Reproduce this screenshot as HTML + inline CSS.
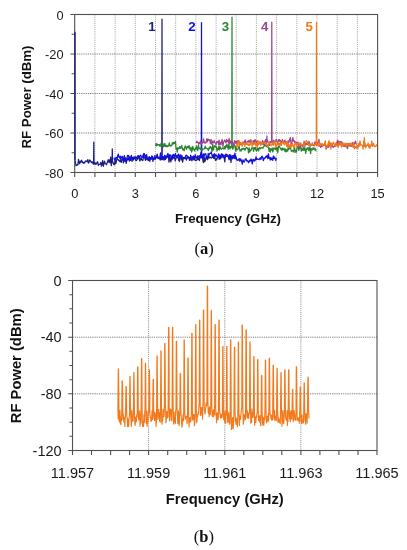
<!DOCTYPE html>
<html lang="en"><head><meta charset="utf-8"><title>RF spectra</title>
<style>html,body{margin:0;padding:0;background:#fff}svg{display:block}</style>
</head><body>
<svg width="407" height="550" viewBox="0 0 407 550">
<rect width="407" height="550" fill="#fff"/>
<g stroke="#9a9a9a" stroke-width="0.9" stroke-dasharray="1 1.1" fill="none">
<path d="M94.9 14.5 V172.5"/>
<path d="M115.1 14.5 V172.5"/>
<path d="M135.3 14.5 V172.5"/>
<path d="M155.5 14.5 V172.5"/>
<path d="M175.7 14.5 V172.5"/>
<path d="M195.9 14.5 V172.5"/>
<path d="M216.1 14.5 V172.5"/>
<path d="M236.2 14.5 V172.5"/>
<path d="M256.4 14.5 V172.5"/>
<path d="M276.6 14.5 V172.5"/>
<path d="M296.8 14.5 V172.5"/>
<path d="M317 14.5 V172.5"/>
<path d="M337.2 14.5 V172.5"/>
<path d="M357.4 14.5 V172.5"/>
</g><g stroke="#333" stroke-width="0.65" stroke-dasharray="1.2 1" fill="none">
<path d="M74.7 54 H377.6"/>
<path d="M74.7 93.5 H377.6"/>
<path d="M74.7 133 H377.6"/>
</g>
<g fill="none" stroke-linejoin="round" stroke-width="1.25">
<path stroke="#1c1c84" d="M74.8 160 L74.9 32 L75 160 L76 165.6 L76.6 165.3 L77.2 164.6 L77.9 165 L78.5 159.3 L79.1 162.4 L79.7 163.8 L80.3 161.2 L81 162 L81.6 160.1 L82.2 162.4 L82.8 161.9 L83.4 163.3 L84.1 162.7 L84.7 163 L85.3 161 L85.9 160.9 L86.5 161.1 L87.2 161.7 L87.8 159.6 L88.4 163.1 L89 162.5 L89.6 160 L90.3 160.5 L90.9 161.6 L91.5 162.6 L92.1 161.7 L92.7 162.8 L93.4 164.3 L93.6 161.7 L93.8 142.2 L94 161.7 L94.6 164 L95.2 162.8 L95.8 164.4 L96.5 163.7 L97.1 162.1 L97.7 161.9 L98.3 165.4 L98.9 164.7 L99.6 164.1 L100.2 164.1 L100.8 162.4 L101.4 166.1 L102 164.2 L102.7 160.5 L103.3 166.3 L103.9 164.2 L104.5 161.1 L105.1 163.1 L105.8 163.8 L106.4 164.8 L107 163.3 L107.6 161.6 L108.2 159.7 L108.9 162.3 L109.5 159.8 L110.1 162.7 L110.7 157 L111.3 165.6 L112 159.9 L112.1 161.6 L112.3 148.8 L112.5 161.6 L112.6 161.6 L113.2 163 L113.8 164.5 L114.4 164.8 L115.1 160.2 L115.7 163.7 L116.3 161.7 L116.9 159.2 L117.5 159.2 L118.2 159.7 L118.8 160.6 L119.4 160.4 L120 161.8 L120.6 159.6 L121.3 162.4 L121.9 159.6 L122.5 157.4 L123.1 160 L123.7 160.7 L124.4 155.5 L125 160.5 L125.6 159.9 L126.2 163.3 L126.8 160.3 L127.5 155.3 L128.1 156.3 L128.7 155.4 L129.3 161.1 L129.9 157.2 L130.6 160.4 L131.2 157.3 L131.8 157.6 L132.4 157.3 L133 160.1 L133.7 159.3 L134.3 157.6 L134.9 156.9 L135.5 160 L136.1 160.7 L136.8 160 L137.4 159.4 L138 157.1 L138.6 155.9 L139.2 158.8 L139.9 161 L140.5 159.6 L141.1 157.4 L141.7 159.6 L142.3 160.5 L143 160.1 L143.6 154.8 L144.2 157.6 L144.8 157.8 L145.4 160.4 L146.1 156.1 L146.7 154.6 L147.3 159.9 L147.9 159 L148.5 160.5 L149.2 156.9 L149.8 161.4 L150.4 158.4 L151 158.9 L151.6 158.3 L152.3 156.3 L152.9 161.4 L153.5 158.7 L154.1 158.7 L154.7 157.5 L155.4 159.1 L156 157.1 L156.6 156.3 L157.2 154.2 L157.8 157.3 L158.5 158.4 L159.1 158.8 L159.7 157.5 L160.3 160.2 L160.9 156.4 L161.6 156.1 L161.8 159.7 L162 19.2 L162.2 159.7 L162.8 157.4 L163.4 157.2 L164 160.1 L164.7 155.3 L165.3 159.5 L165.9 156.1 L166.5 158 L167.1 157.6 L167.8 155.2 L168.4 155.9 L169 162.1 L169.6 158.6 L170.2 157.8 L170.9 161.9 L171.5 157.2 L172.1 159.7 L172.7 157.3 L173.3 158.2 L174 157.6 L174.6 157.3 L175.2 160.8 L175.8 159 L176.4 157.4 L177.1 155.7 L177.7 157.7 L178.3 158.3 L178.9 160.8 L179.5 161.3 L180.2 156.5 L180.8 156.5 L181.4 159.9 L182 155.5 L182.6 162.2 L183.3 158.7 L183.9 158.3 L184.5 158 L185.1 158.1 L185.7 158.3 L186.4 160.1 L187 157.1 L187.6 157.3 L188.2 157.2 L188.8 157.3 L189.5 160.4 L190.1 159.9 L190.7 155.2 L191.3 158.7 L191.9 160.9 L192.6 158.3 L193.2 158.3 L193.8 159.9 L194.4 157.1 L195 160.2 L195.7 160.4 L196.3 160.4 L196.9 160 L197.5 158.1 L198.1 159.5 L198.8 157.8 L199.4 160.6 L200 156.2 L200.6 156.2 L201.2 157.3 L201.9 155 L202.5 157.6 L203.1 161.9 L203.7 162.7 L204.3 157.9 L205 161.4 L205.6 159.3 L206.2 156.9 L206.8 157.7 L207.4 159.7 L208.1 158.5 L208.7 154.4 L209.3 158 L209.9 157.6 L210.5 157.2 L211.2 158 L211.8 157.8 L212.4 156.5 L213 156.7 L213.6 158.4 L214.3 153.6 L214.9 157.7 L215.5 160.4 L216.1 158.9 L216.7 159.8 L217.4 157.5 L218 157.5 L218.6 154.2 L219.2 159.5 L219.8 155.9 L220.5 158.8 L221.1 157.7 L221.7 156.2 L222.3 154.6 L222.9 156.5 L223.6 156.3 L224.2 157.8 L224.8 162 L225.4 154.9 L226 156.5 L226.7 156.4 L227.3 155.5 L227.9 156.5 L228.5 157.6 L229.1 159.8 L229.8 158.5 L230.4 156.1 L231 162.4 L231.6 156.5 L232.2 155.7 L232.9 157.1 L233.5 157.9 L234.1 154.9 L234.7 157.8 L235.3 155.5 L236 159.3"/>
<path stroke="#1010e0" d="M114 157.7 L114.6 160 L115.2 159.8 L115.9 157.3 L116.5 157.9 L117.1 158.5 L117.7 155.7 L118.3 154.1 L119 157.3 L119.6 156.5 L120.2 159.1 L120.8 156.2 L121.4 157.4 L122.1 158.3 L122.7 156.3 L123.3 162.8 L123.9 161.1 L124.5 157.8 L125.2 161.4 L125.8 157.6 L126.4 159.5 L127 160.2 L127.6 158.7 L128.3 159.7 L128.9 157.7 L129.5 159.8 L130.1 160.2 L130.7 157 L131.4 155.4 L132 161.4 L132.6 159.5 L133.2 159.7 L133.8 157 L134.5 158 L135.1 157 L135.7 156.9 L136.3 158.7 L136.9 157.8 L137.6 156.1 L138.2 155.7 L138.8 156.2 L139.4 158.1 L140 155.8 L140.7 155.2 L141.3 156.3 L141.9 157 L142.5 157.2 L143.1 155.3 L143.8 153.5 L144.4 153.6 L145 157 L145.6 155.4 L146.2 159.3 L146.9 157.3 L147.5 158.7 L148.1 158.1 L148.7 158.8 L149.3 156.7 L150 158.3 L150.6 157.5 L151.2 159.4 L151.8 155.9 L152.4 158.1 L153.1 157.3 L153.7 159.7 L154.3 159.3 L154.9 155.3 L155.5 158.5 L156.2 157.8 L156.8 156.2 L157.4 155.8 L158 158.5 L158.6 157.3 L159.3 157.5 L159.9 157.2 L160.5 152.9 L161.1 155.8 L161.7 156.6 L162.4 159.5 L163 156.3 L163.6 158 L164.2 159.5 L164.8 155.5 L165.5 159.2 L166.1 156.3 L166.7 157.4 L167.3 154.8 L167.9 153.4 L168.6 156.5 L169.2 158.3 L169.8 154.5 L170.4 155.3 L171 156.9 L171.7 157.2 L172.3 155 L172.9 157.8 L173.5 154.4 L174.1 155.3 L174.8 157.2 L175.4 153.4 L176 155.8 L176.6 157.2 L177.2 155.9 L177.9 155.3 L178.5 154 L179.1 159.9 L179.7 155.2 L180.3 154.9 L181 155.3 L181.6 157.9 L182.2 158.7 L182.8 157.5 L183.4 157.8 L184.1 157.3 L184.7 158.7 L185.3 157.5 L185.9 155.3 L186.5 155.2 L187.2 156 L187.8 158.3 L188.4 156.8 L189 158 L189.6 157.8 L190.3 159.6 L190.9 156.9 L191.5 157.5 L192.1 156.9 L192.7 158.2 L193.4 155.8 L194 157.2 L194.6 157.8 L195.2 154.6 L195.8 158 L196.5 157 L197.1 158.7 L197.7 155.8 L198.3 157 L198.9 156.3 L199.6 155.7 L200.2 158 L200.8 152.6 L201.3 157.8 L201.5 22.6 L201.7 157.8 L202 155.7 L202.7 157.8 L203.3 153.9 L203.9 158.7 L204.5 154 L205.1 154.4 L205.8 153.6 L206.4 157.1 L207 157.1 L207.6 157.7 L208.2 153.5 L208.9 154.7 L209.5 153.8 L210.1 153.3 L210.7 153.5 L211.3 151.8 L212 155.5 L212.6 156.2 L213.2 154.7 L213.8 155.3 L214.4 158.2 L215.1 154.5 L215.7 155.9 L216.3 155 L216.9 156.3 L217.5 157.2 L218.2 155.6 L218.8 154.1 L219.4 158.2 L220 155.5 L220.6 157.2 L221.3 154 L221.9 153.7 L222.5 155.7 L223.1 157.8 L223.7 154.9 L224.4 156.4 L225 158 L225.6 154.3 L226.2 154.1 L226.8 155.2 L227.5 154.9 L228.1 156.2 L228.7 157.1 L229.3 154.7 L229.9 158.3 L230.6 154.8 L231.2 158.2 L231.8 157 L232.4 158.9 L233 155.8 L233.7 155.7 L234.3 158.5 L234.9 153.1 L235.5 157.8 L236.1 157 L236.8 160 L237.4 160.1 L238 160.4 L238.6 159.2 L239.2 158.7 L239.9 161.3 L240.5 158.9 L241.1 159.7 L241.7 161.3 L242.3 164.1 L243 159.9 L243.6 161.2 L244.2 162.1 L244.8 160.8 L245.4 158.9 L246.1 158.9 L246.7 161 L247.3 160.7 L247.9 160.8 L248.5 162.7 L249.2 161.7 L249.8 160.2 L250.4 161.1 L251 158.9 L251.6 160.6 L252.3 163.9 L252.9 159.3 L253.5 160.8 L254.1 159.5 L254.7 161 L255.4 160 L256 156.8 L256.6 159.5 L257.2 159.1 L257.8 158.9 L258.5 159.5 L259.1 159.6 L259.7 158.5 L260.3 157.8 L260.9 159.5 L261.6 156.7 L262.2 156.1 L262.8 157.8 L263.4 160.7 L264 158.1 L264.7 158.6 L265.3 157.5 L265.9 156.4 L266.5 157.1 L267.1 155.5 L267.8 158.6 L268.4 153.9 L269 158.1 L269.6 157.7 L270.2 160.2 L270.9 157.5 L271.5 159.7 L272.1 158.4 L272.7 160.3 L273.3 156 L274 158.3 L274.6 157 L275.2 158.7 L275.8 160.5 L276.4 158.2"/>
<path stroke="#28842e" d="M155 145.8 L155.6 145.5 L156.2 143.3 L156.9 145.8 L157.5 144.1 L158.1 145.1 L158.7 144.6 L159.3 144.5 L160 146.6 L160.6 145.1 L161.2 142.9 L161.8 145.6 L162.4 143.5 L163.1 143.6 L163.7 146.9 L164.3 146.2 L164.9 143.5 L165.5 146.4 L166.2 146.6 L166.8 145.4 L167.4 146.7 L168 145.7 L168.6 146.1 L169.3 142.8 L169.9 145.7 L170.5 146 L171.1 145.4 L171.7 145.8 L172.4 142.7 L173 144.1 L173.6 142.4 L174.2 143.6 L174.8 142.7 L175.5 141.6 L176.1 149.1 L176.7 148.5 L177.3 152.1 L177.9 147.7 L178.6 148.4 L179.2 148.7 L179.8 146.5 L180.4 148.4 L181 147.8 L181.7 145.3 L182.3 148.5 L182.9 150 L183.5 148.8 L184.1 150.8 L184.8 147.2 L185.4 145.8 L186 147.8 L186.6 149.3 L187.2 147 L187.9 146.3 L188.5 147.8 L189.1 145.7 L189.7 148.6 L190.3 150.1 L191 147.2 L191.6 152 L192.2 150.4 L192.8 146.4 L193.4 149 L194.1 149.9 L194.7 151 L195.3 148.1 L195.9 149 L196.5 145.9 L197.2 149.7 L197.8 150.7 L198.4 144.8 L199 148.2 L199.6 148.4 L200.3 149.3 L200.9 147.8 L201.5 150.1 L202.1 150.4 L202.7 148.7 L203.4 149 L204 149 L204.6 148.7 L205.2 146.2 L205.8 148.4 L206.5 148.1 L207.1 148.7 L207.7 148.8 L208.3 150.6 L208.9 147.9 L209.6 148.5 L210.2 146.3 L210.8 147.9 L211.4 147.6 L212 151.5 L212.7 144.3 L213.3 150.2 L213.9 147.9 L214.5 145.6 L215.1 146 L215.8 147.2 L216.4 146.6 L217 151 L217.6 148.4 L218.2 149.6 L218.9 145.8 L219.5 149.8 L220.1 146.7 L220.7 147.9 L221.3 149.3 L222 148.6 L222.6 147.9 L223.2 148.6 L223.8 149 L224.4 146.5 L225.1 149 L225.7 145.6 L226.3 147.2 L226.9 144.2 L227.5 146.9 L228.2 149.3 L228.8 143.6 L229.4 147.3 L230 149 L230.6 146.3 L231.3 147 L231.8 147.3 L232 17.2 L232.2 147.3 L232.5 149 L233.1 148.7 L233.7 144.6 L234.4 145.1 L235 146.6 L235.6 151.1 L236.2 146.3 L236.8 149.8 L237.5 149.7 L238.1 148.7 L238.7 147 L239.3 146.6 L239.9 150.9 L240.6 149.8 L241.2 151.1 L241.8 148.8 L242.4 148.5 L243 149.6 L243.7 148.1 L244.3 148.7 L244.9 150.2 L245.5 149.1 L246.1 147.6 L246.8 147.3 L247.4 148.6 L248 149.1 L248.6 152.9 L249.2 147.9 L249.9 151.9 L250.5 150 L251.1 150.3 L251.7 147.9 L252.3 148.3 L253 147.8 L253.6 151.3 L254.2 147.5 L254.8 149 L255.4 147.4 L256.1 150.5 L256.7 151.2 L257.3 148.6 L257.9 147.9 L258.5 150.9 L259.2 148.5 L259.8 147.3 L260.4 148.7 L261 148.4 L261.6 147.5 L262.3 147.5 L262.9 148.2 L263.5 146.7 L264.1 146.4 L264.7 144.2 L265.4 145.4 L266 146.3 L266.6 146.6 L267.2 145.4 L267.8 146.8 L268.5 147.1 L269.1 151.4 L269.7 148.1 L270.3 152.1 L270.9 148.8 L271.6 150.2 L272.2 147.9 L272.8 152 L273.4 149.5 L274 147.8 L274.7 148.4 L275.3 149.5 L275.9 148.2 L276.5 150 L277.1 147.4 L277.8 152.7 L278.4 146.9 L279 145.8 L279.6 146.7 L280.2 148.2 L280.9 149.2 L281.5 150.2 L282.1 147.9 L282.7 150 L283.3 149.3 L284 148.2 L284.6 150 L285.2 151.6 L285.8 148.9 L286.4 151.8 L287.1 149.8 L287.7 151.1 L288.3 146.5 L288.9 149.4 L289.5 146.3 L290.2 148.3 L290.8 148.8 L291.4 151.3 L292 150.8 L292.6 150.4 L293.3 152 L293.9 150.1 L294.5 145.7 L295.1 152.4 L295.7 150.5 L296.4 152.2 L297 148.2 L297.6 146.6 L298.2 147.7 L298.8 150.4 L299.5 147.2 L300.1 145.8 L300.7 147.6 L301.3 151.1 L301.9 148.1 L302.6 149.9 L303.2 150.4 L303.8 147.3 L304.4 150.2 L305 147.8 L305.7 153.4 L306.3 149.9 L306.9 148.1 L307.5 149.1 L308.1 147.4 L308.8 150.7 L309.4 149.5 L310 146.7 L310.6 153.7 L311.2 148.5 L311.9 149.8 L312.5 149.9 L313.1 147.6 L313.7 149.1 L314.3 149.6 L315 148.1 L315.6 150.7 L316.2 149.5"/>
<path stroke="#9e4492" d="M196.2 143.1 L196.8 141.2 L197.4 142.5 L198.1 142.3 L198.7 144.1 L199.3 142.6 L199.9 143.7 L200.5 140.9 L201.2 144.4 L201.8 142.1 L202.4 143.1 L203 142.6 L203.6 138.9 L204.3 142.9 L204.9 142.4 L205.5 143.2 L206.1 142.5 L206.7 138.9 L207.4 141.9 L208 138.9 L208.6 140.3 L209.2 139.7 L209.8 140.4 L210.5 143.6 L211.1 139.3 L211.7 144.2 L212.3 141.2 L212.9 142.9 L213.6 142.6 L214.2 140.4 L214.8 142.4 L215.4 143.2 L216 144.9 L216.7 141.7 L217.3 142.2 L217.9 141.3 L218.5 144.4 L219.1 140.2 L219.8 144.6 L220.4 142.4 L221 144.8 L221.6 141.2 L222.2 139.5 L222.9 146.4 L223.5 142.8 L224.1 141.3 L224.7 140 L225.3 141.3 L226 142.9 L226.6 139.4 L227.2 141.5 L227.8 140.6 L228.4 142.7 L229.1 138.4 L229.7 144 L230.3 140.8 L230.9 140.9 L231.5 144.4 L232.2 141.4 L232.8 143.4 L233.4 145.4 L234 143.4 L234.6 140.6 L235.3 143.2 L235.9 141.3 L236.5 143.7 L237.1 141.3 L237.7 140.8 L238.4 142.2 L239 140.9 L239.6 145.3 L240.2 142.5 L240.8 144.5 L241.5 143.4 L242.1 142.8 L242.7 143.9 L243.3 142.2 L243.9 143 L244.6 141.3 L245.2 139.9 L245.8 144.2 L246.4 144.2 L247 141.7 L247.7 141.2 L248.3 142.2 L248.9 140.3 L249.5 141.4 L250.1 143 L250.8 139.6 L251.4 143.2 L252 143.1 L252.6 143.3 L253.2 140.6 L253.9 143.5 L254.5 140.8 L255.1 139.6 L255.7 141 L256.3 143.5 L257 140.9 L257.6 145.6 L258.2 142.3 L258.8 142.5 L259.4 143.9 L260.1 142.6 L260.7 142 L261.3 143.2 L261.9 144 L262.5 140.6 L263.2 144.8 L263.8 141.4 L264.4 142.5 L265 141.5 L265.6 139.5 L266.3 143.9 L266.7 141.6 L266.9 136 L267.1 141.6 L267.5 140.2 L268.1 142 L268.7 142.8 L269.4 145.7 L270 141.5 L270.6 141.8 L271.2 142.8 L271.6 140.7 L271.8 22.1 L272 140.7 L272.5 141.3 L273.1 142.3 L273.7 140.1 L274.3 141.7 L274.9 142.5 L275.6 141.5 L276.2 139.4 L276.8 140.3 L277.4 142.7 L278 143.7 L278.7 139.5 L279.3 139.5 L279.9 141.5 L280.5 140.4 L281.1 142.5 L281.8 142.5 L282.4 139.5 L283 143 L283.6 141.5 L284.2 142.2 L284.9 140.2 L285.5 142.2 L286.1 144.4 L286.7 142.8 L287.3 142.4 L288 144 L288.6 140.9 L289.2 142 L289.8 138.9 L290.4 137.5 L291.1 143.9 L291.7 143.5 L292.3 140.5 L292.9 137.6 L293.5 141 L294.2 140.7 L294.8 142.7 L295.4 141.7 L296 143.8 L296.6 142.8 L297.3 142.1 L297.9 143.2 L298.5 143.8 L299.1 148.2 L299.7 148.7 L300.4 144 L301 144 L301.6 144.6 L302.2 146.8 L302.8 145.1 L303.5 145.8 L304.1 141 L304.7 147 L305.3 143.8 L305.9 143.5 L306.6 144.5 L307.2 143.1 L307.8 144.5 L308.4 144.1 L309 141.4 L309.7 143.5 L310.3 144.2 L310.9 145.6 L311.5 144.6 L312.1 144.7 L312.8 145.1 L313.4 145.6 L314 145.7 L314.6 142.5 L315.2 141.9 L315.9 143.3 L316.5 145.5 L317.1 145.2 L317.7 142.8 L318.3 142.5 L319 139.3 L319.6 146.1 L320.2 145.9 L320.8 147.4 L321.4 146.5 L322.1 144.5 L322.7 146.3 L323.3 145.3 L323.9 145.2 L324.5 145.3 L325.2 144.2 L325.8 146.1 L326.4 149 L327 145.6 L327.6 147.3 L328.3 143.7 L328.9 147.1 L329.5 143.2 L330.1 145.4 L330.7 146.2 L331.4 143.7 L332 146.7 L332.6 145.8 L333.2 147.4 L333.8 146.6 L334.5 146 L335.1 145 L335.7 146.3 L336.3 142.4 L336.9 145.1 L337.6 140.2 L338.2 145.8 L338.8 141.1 L339.4 143 L340 142.2 L340.7 141.4 L341.3 144.9 L341.9 141.8 L342.5 144.5 L343.1 145.2 L343.8 146.3 L344.4 146.2 L345 145.4 L345.6 146.5 L346.2 143.8 L346.9 146.9 L347.5 148.6 L348.1 144.6 L348.7 145.7 L349.3 143.6 L350 145.4 L350.6 146.3 L351.2 146.1 L351.8 146.1 L352.4 142.5 L353.1 144 L353.7 147.4 L354.3 142.7 L354.9 143.4 L355.5 141.2 L356.2 144.1 L356.8 144.3"/>
<path stroke="#f2761a" d="M236 147.2 L236.6 147.4 L237.2 142.7 L237.9 146.6 L238.5 140.5 L239.1 142.6 L239.7 145.5 L240.3 142.4 L241 143.3 L241.6 143.4 L242.2 146.7 L242.8 141.9 L243.4 144.1 L244.1 143.2 L244.7 146.4 L245.3 144.2 L245.9 142.8 L246.5 143.2 L247.2 144.6 L247.8 143.9 L248.4 145.6 L249 143.8 L249.6 145.7 L250.3 144.4 L250.9 142.9 L251.5 140.3 L252.1 147.1 L252.7 142.3 L253.4 144.5 L254 144.5 L254.6 143.4 L255.2 142.9 L255.8 145.6 L256.5 143.4 L257.1 147.5 L257.7 140.7 L258.3 144.8 L258.9 141.1 L259.6 143 L260.2 142.2 L260.8 145.3 L261.4 143.1 L262 142.6 L262.7 143.4 L263.3 142.8 L263.9 141.6 L264.5 143.3 L265.1 143.7 L265.8 143 L266.4 143.7 L267 143.8 L267.6 147.1 L268.2 145.9 L268.9 142.5 L269.5 142 L270.1 143.8 L270.7 144.7 L271.3 145.8 L272 144.5 L272.6 142.7 L273.2 145.4 L273.8 144.5 L274.4 141.4 L275.1 141.2 L275.7 147.4 L276.3 146.3 L276.9 144 L277.5 145 L278.2 141.5 L278.8 144.7 L279.4 143.6 L280 145.5 L280.6 142 L281.3 145.5 L281.9 142.6 L282.5 142.2 L283.1 140.8 L283.7 143.9 L284.4 144.7 L285 143.4 L285.6 143.2 L286.2 141.4 L286.8 146.3 L287.5 141 L288.1 147.8 L288.7 144.1 L289.3 147 L289.9 146.8 L290.6 144.2 L291.2 147.2 L291.8 145.9 L292.4 143.5 L293 144.9 L293.7 147.8 L294.3 147.5 L294.9 143.7 L295.5 142.5 L296.1 143.9 L296.8 146.9 L297.4 144.3 L298 143.9 L298.6 142.4 L299.2 143.7 L299.9 145.5 L300.5 142.7 L301.1 144.9 L301.7 144.7 L302.3 145.1 L303 144.3 L303.6 144.4 L304.2 146.7 L304.8 143.1 L305.4 143.2 L306.1 141.1 L306.7 140.7 L307.3 142.3 L307.9 143.9 L308.5 145.5 L309.2 143.5 L309.8 145.5 L310.4 146.2 L311 144.5 L311.6 144.7 L312.3 142.7 L312.9 144.6 L313.5 144.7 L314.1 145 L314.7 145.8 L315.4 143.3 L316 144 L316.3 143.4 L316.5 22.6 L316.7 143.4 L317.2 145.4 L317.8 145.2 L318.5 146.2 L319.1 141.9 L319.7 145.1 L320.3 143.4 L320.9 144.9 L321.6 144.2 L322.2 143.4 L322.8 146.1 L323.4 144.5 L324 145.5 L324.7 143.2 L325.3 140.7 L325.9 148.9 L326.5 147.4 L327.1 147.6 L327.8 146.1 L328.4 142.6 L329 140.7 L329.6 145.3 L330.2 142.6 L330.9 148.9 L331.5 143 L332.1 145.2 L332.7 145.1 L333.3 142.2 L334 143.7 L334.6 143.8 L335.2 145.6 L335.8 145 L336.4 142.8 L337.1 145 L337.7 146.1 L338.3 147.2 L338.9 142 L339.5 145 L340.2 144.2 L340.8 143.1 L341.4 147.2 L342 142.8 L342.6 146.2 L343.3 146.4 L343.9 142.9 L344.5 144.7 L345.1 144 L345.7 143.3 L346.4 147.5 L347 144 L347.6 143.5 L348.2 144.1 L348.8 143.4 L349.5 146.2 L350.1 144.8 L350.7 143.2 L351.3 145.1 L351.9 143.6 L352.6 146.6 L353.2 147.3 L353.8 143.2 L354.4 148.8 L355 147.1 L355.7 146.3 L356.3 148.7 L356.9 145 L357.5 146 L358.1 148.5 L358.8 143.2 L359.4 146.1 L360 140.8 L360.6 145.1 L361.2 144.6 L361.9 145.3 L362.5 145.8 L363.1 149.1 L363.7 141 L364.2 146.3 L364.4 137.5 L364.6 146.3 L365 142.8 L365.6 147.8 L366.2 146.3 L366.8 145.1 L367.4 145.5 L368.1 143.1 L368.7 147.1 L369.3 144.9 L369.9 148.3 L370.5 145.1 L371.2 145.8 L371.8 141 L372.4 146.3 L373 144.9 L373.6 143.3 L374.3 146.4 L374.9 145.9 L375.5 146.6 L376.1 146 L376.7 144.4"/>
</g>
<g stroke="#505050" stroke-width="1.1" fill="none">
<rect x="74.7" y="14.5" width="302.9" height="158"/>
<path d="M74.7 172.5 v4.6M94.9 172.5 v4.6M115.1 172.5 v4.6M135.3 172.5 v4.6M155.5 172.5 v4.6M175.7 172.5 v4.6M195.9 172.5 v4.6M216.1 172.5 v4.6M236.2 172.5 v4.6M256.4 172.5 v4.6M276.6 172.5 v4.6M296.8 172.5 v4.6M317 172.5 v4.6M337.2 172.5 v4.6M357.4 172.5 v4.6M377.6 172.5 v4.6M74.7 14.5 h-4.3M74.7 34.2 h-3.1M74.7 54 h-4.3M74.7 73.8 h-3.1M74.7 93.5 h-4.3M74.7 113.2 h-3.1M74.7 133 h-4.3M74.7 152.8 h-3.1M74.7 172.5 h-4.3"/>
</g>
<path d="M74.9 32 V160" stroke="#1c1c84" stroke-width="1.0" fill="none"/>
<g font-family="'Liberation Sans', Arial, sans-serif" font-size="12.8" fill="#1a1a1a">
<g text-anchor="end">
<text x="63.6" y="19.5">0</text>
<text x="63.6" y="59">-20</text>
<text x="63.6" y="98.5">-40</text>
<text x="63.6" y="138">-60</text>
<text x="63.6" y="177.5">-80</text>
</g><g text-anchor="middle">
<text x="74.7" y="197.6">0</text>
<text x="135.3" y="197.6">3</text>
<text x="195.9" y="197.6">6</text>
<text x="256.4" y="197.6">9</text>
<text x="317" y="197.6">12</text>
<text x="377.6" y="197.6">15</text>
</g></g>
<g font-family="'Liberation Sans', Arial, sans-serif" font-weight="bold" font-size="13.25" fill="#111" text-anchor="middle">
<text x="228" y="223.3">Frequency (GHz)</text>
<text transform="translate(31.2 97) rotate(-90)">RF Power (dBm)</text>
<text x="152" y="31" fill="#1c1c84">1</text>
<text x="192" y="31" fill="#1010e0">2</text>
<text x="225.5" y="31" fill="#28842e">3</text>
<text x="264.6" y="31" fill="#9e4492">4</text>
<text x="309.3" y="31" fill="#f2761a">5</text>
</g>
<text x="204" y="254.3" font-family="'Liberation Serif', serif" font-size="16.5" fill="#111" text-anchor="middle">(<tspan font-weight="bold">a</tspan>)</text>
<g stroke="#777" stroke-width="0.9" stroke-dasharray="1 1.1" fill="none">
<path d="M148.6 280.5 V450.5"/>
<path d="M224.8 280.5 V450.5"/>
<path d="M300.9 280.5 V450.5"/>
</g><g stroke="#333" stroke-width="0.65" stroke-dasharray="1.2 1" fill="none">
<path d="M72.5 337.2 H377"/>
<path d="M72.5 393.8 H377"/>
</g>
<path d="M118.2 419.5 L117.9 408.1 L118.3 368.8 L118.5 368.8 L118.9 408.2 L119.2 421.8 L119.4 410.5 L119.7 418.4 L120 410.5 L120.3 423.6 L120.6 419.9 L120.9 424.7 L121.2 416.9 L121.5 420.7 L121.8 409.9 L122.1 380.7 L122.4 380.7 L122.8 409 L123 419.6 L123.3 413.7 L123.6 417.5 L123.9 421.9 L124.2 419.2 L124.5 417.3 L124.8 426.5 L125.1 419.2 L125.4 416.5 L125.6 410.8 L126 386.6 L126.3 386.6 L126.6 409.5 L126.9 417.4 L127.2 417.5 L127.5 426.5 L127.8 419.1 L128.1 419.7 L128.4 421.8 L128.7 426.5 L129 418.1 L129.3 416.4 L129.5 415.4 L129.9 376.4 L130.1 376.4 L130.5 407.6 L130.8 417.5 L131.1 421.8 L131.4 426.5 L131.7 415 L131.9 410.5 L132.2 421.8 L132.5 416.8 L132.8 417.4 L133.1 420.9 L133.4 410.9 L133.8 372.6 L134 372.6 L134.4 411.1 L134.6 417.2 L134.9 424.4 L135.2 425.3 L135.5 419.1 L135.8 417.1 L136.1 422.1 L136.4 421 L136.7 414.6 L137 417.1 L137.3 412.6 L137.6 366.8 L137.9 366.8 L138.3 410.3 L138.5 417.6 L138.8 419.9 L139.1 418.9 L139.4 419 L139.7 410.9 L140 426.3 L140.3 419.8 L140.6 415.3 L140.9 423.1 L141.1 411.1 L141.5 358.6 L141.8 358.6 L142.1 410.5 L142.4 423.4 L142.7 426.5 L143 421.3 L143.3 425.7 L143.6 426.5 L143.9 414.7 L144.2 416.8 L144.5 422.3 L144.7 411.8 L145 410 L145.4 363.3 L145.6 363.3 L146 413.1 L146.2 423.4 L146.5 421.4 L146.8 411 L147.1 426.5 L147.4 421.3 L147.7 422.2 L148 421.1 L148.3 411.8 L148.6 413 L148.9 408 L149.2 369.7 L149.5 369.7 L149.9 414.3 L150.1 415.5 L150.4 418 L150.7 417.9 L151 421.4 L151.3 421.1 L151.6 420.1 L151.9 413.6 L152.2 410.4 L152.5 419.6 L152.7 410.9 L153.1 379.3 L153.4 379.3 L153.7 412.8 L154 418.4 L154.3 416.2 L154.6 420.5 L154.9 412.2 L155.2 414.3 L155.5 414.4 L155.8 419.8 L156.1 426.1 L156.4 421.7 L156.6 412.2 L157 355.7 L157.2 355.7 L157.6 410.3 L157.9 419.4 L158.2 416.2 L158.5 416.9 L158.7 409.4 L159 412.8 L159.3 412.4 L159.6 421.2 L159.9 420.3 L160.2 422.2 L160.5 411.8 L160.9 350.7 L161.1 350.7 L161.5 408 L161.7 421.3 L162 424.2 L162.3 416.5 L162.6 421 L162.9 415.6 L163.2 409.4 L163.5 416.6 L163.8 412.5 L164.1 416.3 L164.4 406.1 L164.7 343.5 L165 343.5 L165.4 407.7 L165.6 406.8 L165.9 422.8 L166.2 420.9 L166.5 413.7 L166.8 411.3 L167.1 415.1 L167.4 417.9 L167.7 416.8 L168 416.7 L168.2 402.6 L168.6 327.4 L168.9 327.4 L169.2 404.3 L169.5 420.8 L169.8 416.2 L170.1 408.9 L170.4 411.7 L170.7 409.3 L171 411.2 L171.3 420.6 L171.5 414.8 L171.8 420.6 L172.1 408 L172.5 327.4 L172.7 327.4 L173.1 404.6 L173.3 413.7 L173.6 424.1 L173.9 413.5 L174.2 412.4 L174.5 422.3 L174.8 417.5 L175.1 417.3 L175.4 423.7 L175.7 410 L176 410.2 L176.3 341.4 L176.6 341.4 L177 407.2 L177.2 412.2 L177.5 414.9 L177.8 423.4 L178.1 418 L178.4 410.9 L178.7 414.1 L179 425.6 L179.3 423.6 L179.6 414.6 L179.8 416.1 L180.2 373.5 L180.5 373.5 L180.8 410.4 L181.1 414.9 L181.4 419.6 L181.7 424.3 L182 427.3 L182.3 424.9 L182.6 418.8 L182.9 418.4 L183.2 414.6 L183.5 420.7 L183.7 411.5 L184.1 339.7 L184.3 339.7 L184.7 413.2 L185 415.9 L185.3 419.2 L185.5 417.6 L185.8 416.3 L186.1 416.4 L186.4 417.1 L186.7 416.3 L187 423.8 L187.3 421.7 L187.6 409.9 L187.9 358 L188.2 358 L188.6 413.7 L188.8 422.1 L189.1 427 L189.4 419.8 L189.7 419.6 L190 417.4 L190.3 420.8 L190.6 422.2 L190.9 420.7 L191.2 418.7 L191.4 412.1 L191.8 333.3 L192.1 333.3 L192.4 411.1 L192.7 420.1 L193 414.9 L193.3 419.6 L193.6 414.3 L193.9 414.8 L194.2 419 L194.5 425.6 L194.8 422.2 L195.1 417.8 L195.3 408.4 L195.7 324.5 L195.9 324.5 L196.3 410.8 L196.6 422.8 L196.9 421.9 L197.2 415.6 L197.5 417 L197.8 414.5 L198.1 414.5 L198.3 411.8 L198.6 414.2 L198.9 406.5 L199.2 403.3 L199.6 320.1 L199.8 320.1 L200.2 406.7 L200.4 409.6 L200.7 415.6 L201 407.5 L201.3 411.2 L201.6 414.2 L201.9 407.7 L202.2 408.8 L202.5 419.1 L202.8 408.5 L203.1 400.8 L203.4 310 L203.7 310 L204.1 401.1 L204.3 410.3 L204.6 409.9 L204.9 414 L205.2 413 L205.5 407.7 L205.8 407.8 L206.1 403.2 L206.4 402.7 L206.7 405.9 L206.9 402 L207.3 286.1 L207.6 286.1 L207.9 400.7 L208.2 412.5 L208.5 413.2 L208.8 408.5 L209.1 416.8 L209.4 407.2 L209.7 406.9 L210 407.9 L210.3 414.8 L210.6 409.5 L210.8 400.6 L211.2 310.5 L211.4 310.5 L211.8 403 L212.1 416.1 L212.4 411 L212.6 410.7 L212.9 416.7 L213.2 416.6 L213.5 416.7 L213.8 409.6 L214.1 414.4 L214.4 415 L214.7 402 L215 324.5 L215.3 324.5 L215.7 408.1 L215.9 415.3 L216.2 413.6 L216.5 422.8 L216.8 416.2 L217.1 412.7 L217.4 415.8 L217.7 418.7 L218 419.9 L218.3 416.4 L218.5 406.8 L218.9 320.1 L219.2 320.1 L219.5 407.2 L219.8 414 L220.1 413.1 L220.4 417.6 L220.7 415.7 L221 418.2 L221.3 414.5 L221.6 414.5 L221.9 417.5 L222.2 416.9 L222.4 412.4 L222.8 346.4 L223 346.4 L223.4 408.2 L223.7 419.7 L224 418.7 L224.3 413.3 L224.6 422.2 L224.9 419.9 L225.1 410.7 L225.4 421.9 L225.7 423.5 L226 416.2 L226.3 414.9 L226.7 346.4 L226.9 346.4 L227.3 411.7 L227.5 415.3 L227.8 422.8 L228.1 419 L228.4 415 L228.7 412.4 L229 422.1 L229.3 418 L229.6 424.1 L229.9 423.1 L230.2 412.2 L230.5 339.7 L230.8 339.7 L231.2 412.1 L231.4 429.4 L231.7 429.2 L232 425.1 L232.3 420.3 L232.6 417.6 L232.9 420.1 L233.2 428.8 L233.5 423.5 L233.8 420.2 L234 410 L234.4 347.2 L234.7 347.2 L235 412.8 L235.3 416.8 L235.6 420.4 L235.9 423.3 L236.2 424.5 L236.5 420.3 L236.8 418.1 L237.1 420.3 L237.4 426.7 L237.7 420.6 L237.9 407.2 L238.3 342 L238.5 342 L238.9 413.2 L239.2 419.3 L239.4 425.5 L239.7 415.9 L240 417.4 L240.3 416.4 L240.6 419.2 L240.9 415 L241.2 411 L241.5 409 L241.8 408.3 L242.1 325.1 L242.4 325.1 L242.8 407.5 L243 414.4 L243.3 424.3 L243.6 420.1 L243.9 421.3 L244.2 414.5 L244.5 417.9 L244.8 415.7 L245.1 415.7 L245.4 419.7 L245.6 409.2 L246 329.8 L246.3 329.8 L246.6 408.6 L246.9 417.2 L247.2 410.4 L247.5 413.4 L247.8 418.3 L248.1 415.1 L248.4 413.4 L248.7 418.3 L249 412.9 L249.3 414 L249.5 410.4 L249.9 342 L250.1 342 L250.5 407.8 L250.8 423.3 L251.1 419.6 L251.4 420.9 L251.7 422.3 L251.9 409.1 L252.2 417.3 L252.5 412.2 L252.8 415.8 L253.1 417.4 L253.4 412.1 L253.8 356.6 L254 356.6 L254.4 409.5 L254.6 425.2 L254.9 416 L255.2 418.1 L255.5 418.8 L255.8 422.5 L256.1 418.3 L256.4 415.9 L256.7 417.2 L257 412.7 L257.3 412.8 L257.6 359.5 L257.9 359.5 L258.3 411.7 L258.5 420.6 L258.8 420 L259.1 416.3 L259.4 417.1 L259.7 422.3 L260 415.5 L260.3 415.6 L260.6 425.6 L260.9 425.6 L261.1 411 L261.5 375.5 L261.8 375.5 L262.1 411.5 L262.4 419.8 L262.7 425 L263 417.1 L263.3 419.3 L263.6 421 L263.9 425.1 L264.2 417.9 L264.5 420 L264.7 416.9 L265 409.2 L265.4 360 L265.6 360 L266 409.2 L266.2 419.4 L266.5 422.8 L266.8 416.1 L267.1 416.4 L267.4 417.3 L267.7 420.5 L268 422 L268.3 413.7 L268.6 420.5 L268.9 408.5 L269.2 358.3 L269.5 358.3 L269.9 411.9 L270.1 414.9 L270.4 414.4 L270.7 416 L271 418.7 L271.3 414.8 L271.6 419.9 L271.9 419.6 L272.2 419.4 L272.5 420.1 L272.7 412.3 L273.1 365.3 L273.4 365.3 L273.7 409 L274 419 L274.3 418.9 L274.6 410.5 L274.9 420.6 L275.2 415.8 L275.5 416 L275.8 417.1 L276.1 419.4 L276.4 420.4 L276.6 411.5 L277 368.2 L277.2 368.2 L277.6 409.1 L277.9 421.9 L278.2 420.8 L278.5 417.4 L278.8 418.9 L279 422.4 L279.3 420.8 L279.6 421.9 L279.9 419.4 L280.2 423.8 L280.5 415 L280.9 372.6 L281.1 372.6 L281.5 411.4 L281.7 412.3 L282 426.3 L282.3 416.6 L282.6 413.2 L282.9 410.5 L283.2 420.8 L283.5 423.6 L283.8 423.2 L284.1 417.4 L284.4 413.4 L284.7 369.7 L285 369.7 L285.4 410.3 L285.6 416.5 L285.9 419.3 L286.2 419.9 L286.5 419.2 L286.8 420.7 L287.1 410.5 L287.4 425.6 L287.7 416.6 L288 421.7 L288.2 408.9 L288.6 369.7 L288.9 369.7 L289.2 410.8 L289.5 418.3 L289.8 412.4 L290.1 420.6 L290.4 421.7 L290.7 414.3 L291 410.5 L291.3 416.3 L291.5 415.5 L291.8 419.5 L292.1 410.5 L292.5 389.2 L292.7 389.2 L293.1 413.7 L293.3 421.7 L293.6 417.9 L293.9 419.7 L294.2 410.5 L294.5 415.2 L294.8 415.1 L295.1 418.5 L295.4 420.3 L295.7 419.9 L296 412.4 L296.3 366.8 L296.6 366.8 L297 409.1 L297.2 420.3 L297.5 418.5 L297.8 419.1 L298.1 420.4 L298.4 417.8 L298.7 419.9 L299 418.9 L299.3 423.3 L299.6 418.5 L299.8 411.1 L300.2 387.1 L300.5 387.1 L300.8 415.7 L301.1 421.6 L301.4 421.1 L301.7 423.5 L302 414.8 L302.3 422 L302.6 422.1 L302.9 420.8 L303.2 423.1 L303.5 422.3 L303.7 412.9 L304.1 382.8 L304.3 382.8 L304.7 409.2 L305 420.8 L305.3 416.7 L305.6 424.2 L305.8 419.6 L306.1 413.6 L306.4 419.5 L306.7 414.8 L307 423.1 L307.3 417.6 L307.6 406.1 L307.9 377 L308.2 377 L308.6 409.7 L309 418.5" fill="none" stroke="#f37a1c" stroke-width="1.15" stroke-linejoin="round"/>
<g stroke="#505050" stroke-width="1.1" fill="none">
<rect x="72.5" y="280.5" width="304.5" height="170"/>
<path d="M72.5 450.5 v4.6M91.5 450.5 v4.6M110.6 450.5 v4.6M129.6 450.5 v4.6M148.6 450.5 v4.6M167.7 450.5 v4.6M186.7 450.5 v4.6M205.7 450.5 v4.6M224.8 450.5 v4.6M243.8 450.5 v4.6M262.8 450.5 v4.6M281.8 450.5 v4.6M300.9 450.5 v4.6M319.9 450.5 v4.6M338.9 450.5 v4.6M358 450.5 v4.6M377 450.5 v4.6M72.5 280.5 h-4.3M72.5 294.7 h-3.1M72.5 308.8 h-3.1M72.5 323 h-3.1M72.5 337.2 h-4.3M72.5 351.3 h-3.1M72.5 365.5 h-3.1M72.5 379.7 h-3.1M72.5 393.8 h-4.3M72.5 408 h-3.1M72.5 422.2 h-3.1M72.5 436.3 h-3.1M72.5 450.5 h-4.3"/>
</g>
<g font-family="'Liberation Sans', Arial, sans-serif" font-size="14.5" fill="#1a1a1a">
<g text-anchor="end">
<text x="61.6" y="285.7">0</text>
<text x="61.6" y="342.4">-40</text>
<text x="61.6" y="399">-80</text>
<text x="61.6" y="455.7">-120</text>
</g><g text-anchor="middle">
<text x="72.5" y="478.4">11.957</text>
<text x="148.6" y="478.4">11.959</text>
<text x="224.8" y="478.4">11.961</text>
<text x="300.9" y="478.4">11.963</text>
<text x="377" y="478.4">11.965</text>
</g></g>
<g font-family="'Liberation Sans', Arial, sans-serif" font-weight="bold" font-size="14.75" fill="#111" text-anchor="middle">
<text x="224.7" y="504">Frequency (GHz)</text>
<text transform="translate(20.6 365.8) rotate(-90)">RF Power (dBm)</text>
</g>
<text x="203.8" y="542" font-family="'Liberation Serif', serif" font-size="16.5" fill="#111" text-anchor="middle">(<tspan font-weight="bold">b</tspan>)</text>
</svg>
</body></html>
